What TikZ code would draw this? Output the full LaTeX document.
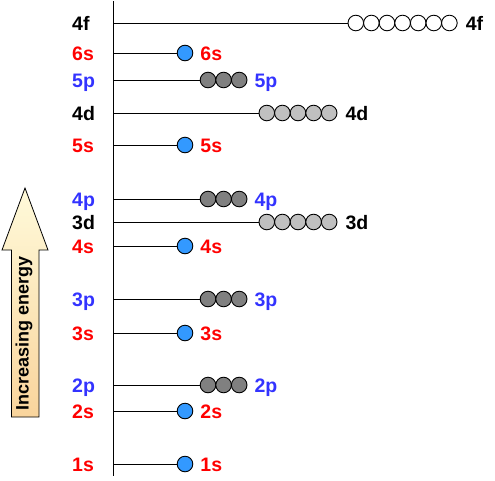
\documentclass[tikz,border=0pt]{standalone}
\usepackage{fontspec}
\setmainfont{Liberation Sans}
\usepackage{tikz}
\usetikzlibrary{positioning}
\definecolor{sred}{RGB}{255,0,0}
\definecolor{pblue}{RGB}{51,51,255}
\definecolor{sfill}{RGB}{51,153,255}
\definecolor{pfill}{RGB}{128,128,128}
\definecolor{dfill}{RGB}{192,192,192}
\definecolor{arrtop}{RGB}{255,250,218}
\definecolor{arrbot}{RGB}{249,212,156}
\tikzset{
  orb/.style={circle,draw=black,line width=0.9pt,minimum size=15.6pt,inner sep=0pt},
  sorb/.style={orb,fill=sfill},
  porb/.style={orb,fill=pfill},
  dorb/.style={orb,fill=dfill},
  forb/.style={orb,fill=white},
  lab/.style={font=\fontsize{19.5}{21}\selectfont\bfseries,inner sep=0pt,text height=14pt,text depth=0pt},
  lvl/.style={line width=0.8pt}
}
\begin{document}
\begin{tikzpicture}[x=1pt,y=-1pt]
    \useasboundingbox (0,0) rectangle (495,480);
    \coordinate (top) at (113,1);
    \coordinate (bot) at (113,476);
    \draw[line width=0.9pt] (top) -- (bot);
    \draw[line width=0.8pt,top color=arrtop,bottom color=arrbot] (25,188) -- (48,250) -- (39,250) -- (39,417) -- (11.5,417) -- (11.5,250) -- (2,250) -- cycle;
    \node[rotate=90,font=\fontsize{18}{20}\selectfont\bfseries] (energy) at (24,333) {Increasing energy};
    \foreach \nn/\y in {1/464,2/411,3/333,4/246,5/145,6/53}{
        \coordinate (ax\nn s) at (113,\y);
        \node[sorb] (s\nn) at (185,\y) {};
        \draw[lvl] (ax\nn s) -- (s\nn);
        \node[lab,text=sred,right=7pt of s\nn] (r\nn s) {\nn s};
        \node[lab,text=sred,anchor=west] (l\nn s) at (72,\y) {\nn s};
    }
    \foreach \nn/\y in {2/385,3/299,4/199,5/80}{
        \coordinate (ax\nn p) at (113,\y);
        \foreach \i in {1,2,3}{\node[porb] (p\nn-\i) at (192.4+15.6*\i,\y) {};}
        \draw[lvl] (ax\nn p) -- (p\nn-1);
        \node[lab,text=pblue,right=7pt of p\nn-3] (r\nn p) {\nn p};
        \node[lab,text=pblue,anchor=west] (l\nn p) at (72,\y) {\nn p};
    }
    \foreach \nn/\y in {3/222,4/113}{
        \coordinate (ax\nn d) at (113,\y);
        \foreach \i in {1,...,5}{\node[dorb] (d\nn-\i) at (251.2+15.6*\i,\y) {};}
        \draw[lvl] (ax\nn d) -- (d\nn-1);
        \node[lab,right=8pt of d\nn-5] (r\nn d) {\nn d};
        \node[lab,anchor=west] (l\nn d) at (72,\y) {\nn d};
    }
    \coordinate (ax4f) at (113,23);
    \foreach \i in {1,...,7}{\node[forb] (f4-\i) at (340.2+15.6*\i,23) {};}
    \draw[lvl] (ax4f) -- (f4-1);
    \node[lab,right=8pt of f4-7] (r4f) {4f};
    \node[lab,anchor=west] (l4f) at (72,23) {4f};
\end{tikzpicture}
\end{document}
